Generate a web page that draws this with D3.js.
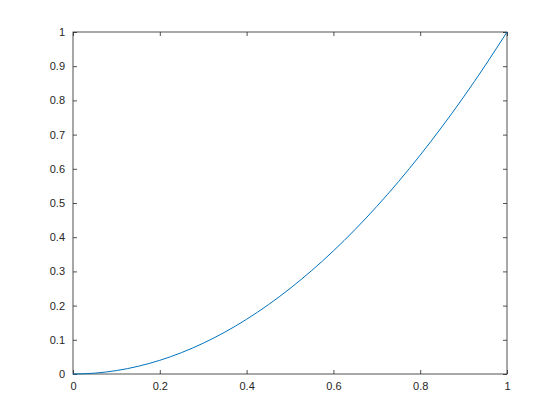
<!DOCTYPE html>
<html><head><meta charset="utf-8">
<script src="https://cdn.jsdelivr.net/npm/d3@7"></script>
<style>body{margin:0;background:#fff}svg{display:block}</style>
</head><body>
<svg id="c" width="560" height="420"></svg>
<script>
const xs = [0,0.05,0.1,0.15,0.2,0.25,0.3,0.35,0.4,0.45,0.5,0.55,0.6,0.65,0.7,0.75,0.8,0.85,0.9,0.95,1];
const ys = [0,0.0025,0.01,0.0225,0.04,0.0625,0.09,0.1225,0.16,0.2025,0.25,0.3025,0.36,0.4225,0.49,0.5625,0.64,0.7225,0.81,0.9025,1];
const xTicks = [0,0.2,0.4,0.6,0.8,1];
const yTicks = [0,0.1,0.2,0.3,0.4,0.5,0.6,0.7,0.8,0.9,1];

const L=73,R=507,T=32,B=374;
const svg=d3.select("#c");
const x=d3.scaleLinear().domain([0,1]).range([L,R]);
const y=d3.scaleLinear().domain([0,1]).range([B,T]);
const col="#262626";
svg.append("rect").attr("x",L).attr("y",T).attr("width",R-L).attr("height",B-T).attr("fill","#fff").attr("stroke",col).attr("stroke-width",0.8);
const fmt=d=>String(d);
function style(g){g.select(".domain").remove();g.selectAll("line").attr("stroke",col).attr("stroke-width",0.8);
 g.selectAll("text").attr("fill",col).style("font-family","Liberation Sans, Arial, sans-serif").style("font-size","11px");}
svg.append("g").attr("transform",`translate(0,${B})`).call(d3.axisBottom(x).tickValues(xTicks).tickFormat(fmt).tickSizeInner(-4).tickPadding(8)).call(style);
svg.append("g").attr("transform",`translate(0,${T})`).call(d3.axisTop(x).tickValues(xTicks).tickFormat("").tickSizeInner(-4)).call(style);
svg.append("g").attr("transform",`translate(${L},0)`).call(d3.axisLeft(y).tickValues(yTicks).tickFormat(fmt).tickSizeInner(-4).tickPadding(8)).call(style);
svg.append("g").attr("transform",`translate(${R},0)`).call(d3.axisRight(y).tickValues(yTicks).tickFormat("").tickSizeInner(-4)).call(style);
svg.append("path").datum(xs.map((v,i)=>[v,ys[i]])).attr("fill","none").attr("stroke","#0072BD").attr("stroke-width",1)
 .attr("d",d3.line().x(d=>x(d[0])).y(d=>y(d[1])).curve(d3.curveMonotoneX));
</script></body></html>
